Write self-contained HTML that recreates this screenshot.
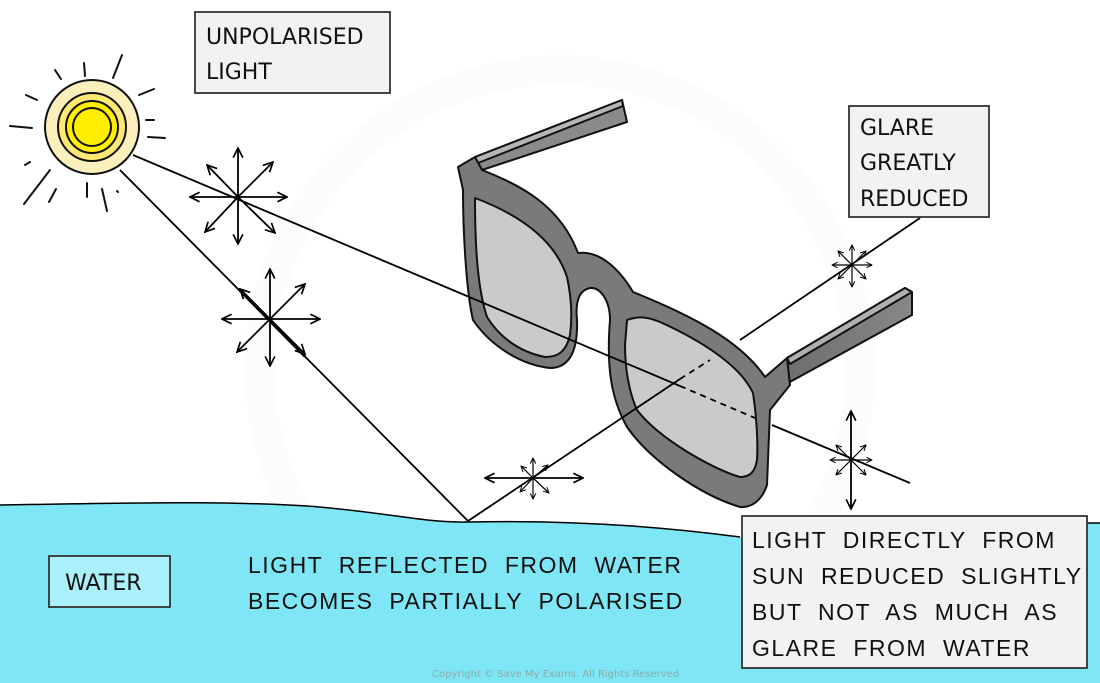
<!DOCTYPE html>
<html><head><meta charset="utf-8"><style>
html,body{margin:0;padding:0;background:#fff}
svg{display:block}
text{font-family:"DejaVu Sans","Liberation Sans",sans-serif;font-size:22px;fill:#111}
.c{font-family:"Liberation Sans",sans-serif;font-size:23px;letter-spacing:1.5px;word-spacing:8px}
</style></head><body>
<svg width="1100" height="683" viewBox="0 0 1100 683" xmlns="http://www.w3.org/2000/svg">
<defs>
<marker id="a" viewBox="0 0 10 10" refX="9" refY="5" markerWidth="12" markerHeight="12" markerUnits="userSpaceOnUse" orient="auto-start-reverse"><path d="M1,1 L9,5 L1,9" fill="none" stroke="#000" stroke-width="1.4"/></marker>
<marker id="s" viewBox="0 0 10 10" refX="9" refY="5" markerWidth="7" markerHeight="7" markerUnits="userSpaceOnUse" orient="auto-start-reverse"><path d="M1,1 L9,5 L1,9" fill="none" stroke="#000" stroke-width="1.4"/></marker>
<linearGradient id="tg" x1="0" y1="0" x2="1" y2="0"><stop offset="0" stop-color="#6e6e6e"/><stop offset="1" stop-color="#888"/></linearGradient>
</defs>
<!-- watermark -->
<circle cx="560" cy="370" r="300" fill="none" stroke="#fafcfe" stroke-width="30"/>
<!-- water -->
<path d="M0,505 C120,503 250,500 330,508 C400,515 430,523 468,522 C560,520 650,525 740,537 L745,537 L1100,523 L1100,683 L0,683 Z" fill="#7fe6f5"/>
<path d="M0,505 C120,503 250,500 330,508 C400,515 430,523 468,522 C560,520 650,525 740,537" fill="none" stroke="#000" stroke-width="1.5"/>
<line x1="1087" y1="523" x2="1100" y2="523" stroke="#000" stroke-width="1.5"/>
<!-- sun -->
<g stroke="#111" stroke-width="2" stroke-linecap="round">
<circle cx="92" cy="127" r="47" fill="#fbf0bb"/>
<circle cx="92" cy="127" r="34" fill="#fde873"/>
<circle cx="92" cy="127" r="26" fill="#ffee00"/>
<circle cx="92" cy="127" r="19" fill="#ffee00"/>
<line x1="55" y1="70" x2="61" y2="79"/><line x1="84" y1="63" x2="85" y2="76"/><line x1="122" y1="55" x2="113" y2="78"/>
<line x1="26" y1="95" x2="37" y2="100"/><line x1="139" y1="95" x2="154" y2="89"/>
<line x1="10" y1="126" x2="32" y2="128"/><line x1="146" y1="120" x2="154" y2="120"/><line x1="148" y1="137" x2="165" y2="138"/>
<line x1="25" y1="165" x2="30" y2="162"/><line x1="24" y1="204" x2="50" y2="170"/><line x1="49" y1="202" x2="56" y2="189"/>
<line x1="87" y1="183" x2="87" y2="197"/><line x1="102" y1="189" x2="107" y2="211"/><line x1="117" y1="191" x2="118" y2="192"/>
</g>
<!-- glasses -->
<g stroke="#111" stroke-width="2" stroke-linejoin="round">
<path d="M475,157 L622,100 L627,122 L482,170 Z" fill="#8a8a8a"/>
<path d="M475,157 L622,100 L623,106 L478,163 Z" fill="#b5b5b5"/>
<path d="M787,358 L905,288 L912,292 L912,315 L788,383 Z" fill="url(#tg)"/>
<path d="M787,358 L905,288 L912,292 L790,364 Z" fill="#b0b0b0"/>
<path d="M458,167 L475,157 L482,170 C520,185 560,205 578,253 C600,250 620,270 633,292 C690,315 740,340 765,377 L787,358 L790,385 L770,410 L767,485 C762,500 752,508 740,507 C700,495 650,460 627,427 C612,400 606,370 610,320 C610,300 600,287 590,288 C580,290 575,300 577,320 C578,350 570,368 550,368 C520,365 490,345 473,320 C466,290 463,230 463,190 Z" fill="#7a7a7a"/>
<path d="M475,198 C520,215 555,240 567,277 C572,300 572,320 570,335 C566,352 558,357 545,357 C520,352 500,338 487,317 C478,290 475,250 475,198 Z" fill="#cacaca"/>
<path d="M627,320 C640,315 650,318 660,322 C700,340 740,365 753,393 C757,420 758,445 757,460 C755,472 750,477 740,477 C715,470 660,440 637,410 C628,390 625,365 625,345 Z" fill="#cacaca"/>
</g>
<!-- rays -->
<g stroke="#000" stroke-width="1.8" fill="none">
<line x1="133" y1="155" x2="680" y2="386"/>
<line x1="680" y1="386" x2="755" y2="418" stroke-dasharray="6,5"/>
<line x1="772" y1="425" x2="910" y2="483"/>
<line x1="120" y1="170" x2="468" y2="521"/>
<line x1="468" y1="521" x2="680" y2="379"/>
<line x1="680" y1="379" x2="710" y2="360" stroke-dasharray="6,5"/>
<line x1="740" y1="340" x2="920" y2="218"/>
<line x1="240" y1="290" x2="305" y2="356" stroke-width="3.5"/>
</g>
<!-- big stars -->
<g stroke="#000" stroke-width="1.8">
<line x1="238" y1="197" x2="238" y2="148" marker-end="url(#a)"/><line x1="238" y1="197" x2="238" y2="244" marker-end="url(#a)"/>
<line x1="238" y1="197" x2="190" y2="197" marker-end="url(#a)"/><line x1="238" y1="197" x2="287" y2="197" marker-end="url(#a)"/>
<line x1="238" y1="197" x2="273" y2="162" marker-end="url(#a)"/><line x1="238" y1="197" x2="205" y2="232" marker-end="url(#a)"/>
<line x1="238" y1="197" x2="207" y2="165" marker-end="url(#a)"/><line x1="238" y1="197" x2="275" y2="233" marker-end="url(#a)"/>
<line x1="270" y1="319" x2="270" y2="269" marker-end="url(#a)"/><line x1="270" y1="319" x2="270" y2="366" marker-end="url(#a)"/>
<line x1="270" y1="319" x2="222" y2="319" marker-end="url(#a)"/><line x1="270" y1="319" x2="320" y2="319" marker-end="url(#a)"/>
<line x1="270" y1="319" x2="305" y2="284" marker-end="url(#a)"/><line x1="270" y1="319" x2="237" y2="352" marker-end="url(#a)"/>
<line x1="270" y1="319" x2="240" y2="289" marker-end="url(#a)"/><line x1="270" y1="319" x2="305" y2="354" marker-end="url(#a)"/>
<line x1="533" y1="478" x2="485" y2="478" marker-end="url(#a)"/><line x1="533" y1="478" x2="583" y2="478" marker-end="url(#a)"/>
<line x1="851" y1="460" x2="851" y2="411" marker-end="url(#a)"/><line x1="851" y1="460" x2="851" y2="509" marker-end="url(#a)"/>
</g>
<g stroke="#000" stroke-width="1.2">
<line x1="533" y1="478" x2="533" y2="458" marker-end="url(#s)"/><line x1="533" y1="478" x2="533" y2="499" marker-end="url(#s)"/>
<line x1="533" y1="478" x2="548" y2="465" marker-end="url(#s)"/><line x1="533" y1="478" x2="520" y2="492" marker-end="url(#s)"/>
<line x1="533" y1="478" x2="521" y2="466" marker-end="url(#s)"/><line x1="533" y1="478" x2="549" y2="493" marker-end="url(#s)"/>
<line x1="852" y1="265" x2="852" y2="245" marker-end="url(#s)"/><line x1="852" y1="265" x2="852" y2="287" marker-end="url(#s)"/>
<line x1="852" y1="265" x2="832" y2="265" marker-end="url(#s)"/><line x1="852" y1="265" x2="872" y2="265" marker-end="url(#s)"/>
<line x1="852" y1="265" x2="866" y2="251" marker-end="url(#s)"/><line x1="852" y1="265" x2="838" y2="279" marker-end="url(#s)"/>
<line x1="852" y1="265" x2="838" y2="251" marker-end="url(#s)"/><line x1="852" y1="265" x2="866" y2="279" marker-end="url(#s)"/>
<line x1="851" y1="460" x2="830" y2="460" marker-end="url(#s)"/><line x1="851" y1="460" x2="872" y2="460" marker-end="url(#s)"/>
<line x1="851" y1="460" x2="866" y2="445" marker-end="url(#s)"/><line x1="851" y1="460" x2="836" y2="475" marker-end="url(#s)"/>
<line x1="851" y1="460" x2="836" y2="445" marker-end="url(#s)"/><line x1="851" y1="460" x2="866" y2="475" marker-end="url(#s)"/>
</g>
<!-- boxes -->
<g stroke="#333" stroke-width="1.8" fill="#f2f2f2">
<rect x="195" y="12" width="195" height="81"/>
<rect x="849" y="106" width="140" height="111"/>
<rect x="742" y="516" width="345" height="152"/>
<rect x="49" y="556" width="121" height="51" fill="#a9f0fa"/>
</g>
<text x="206" y="44">UNPOLARISED</text><text x="206" y="79">LIGHT</text>
<text x="860" y="135">GLARE</text><text x="860" y="170">GREATLY</text><text x="860" y="206">REDUCED</text>
<text x="65" y="590">WATER</text>
<text class="c" x="248" y="573">LIGHT REFLECTED FROM WATER</text>
<text class="c" x="248" y="609">BECOMES PARTIALLY POLARISED</text>
<text class="c" x="752" y="548">LIGHT DIRECTLY FROM</text>
<text class="c" x="752" y="584">SUN REDUCED SLIGHTLY</text>
<text class="c" x="752" y="620">BUT NOT AS MUCH AS</text>
<text class="c" x="752" y="656">GLARE FROM WATER</text>
<text x="432" y="677" style="font-size:10px;fill:#8aa">Copyright © Save My Exams. All Rights Reserved</text>
</svg>
</body></html>
